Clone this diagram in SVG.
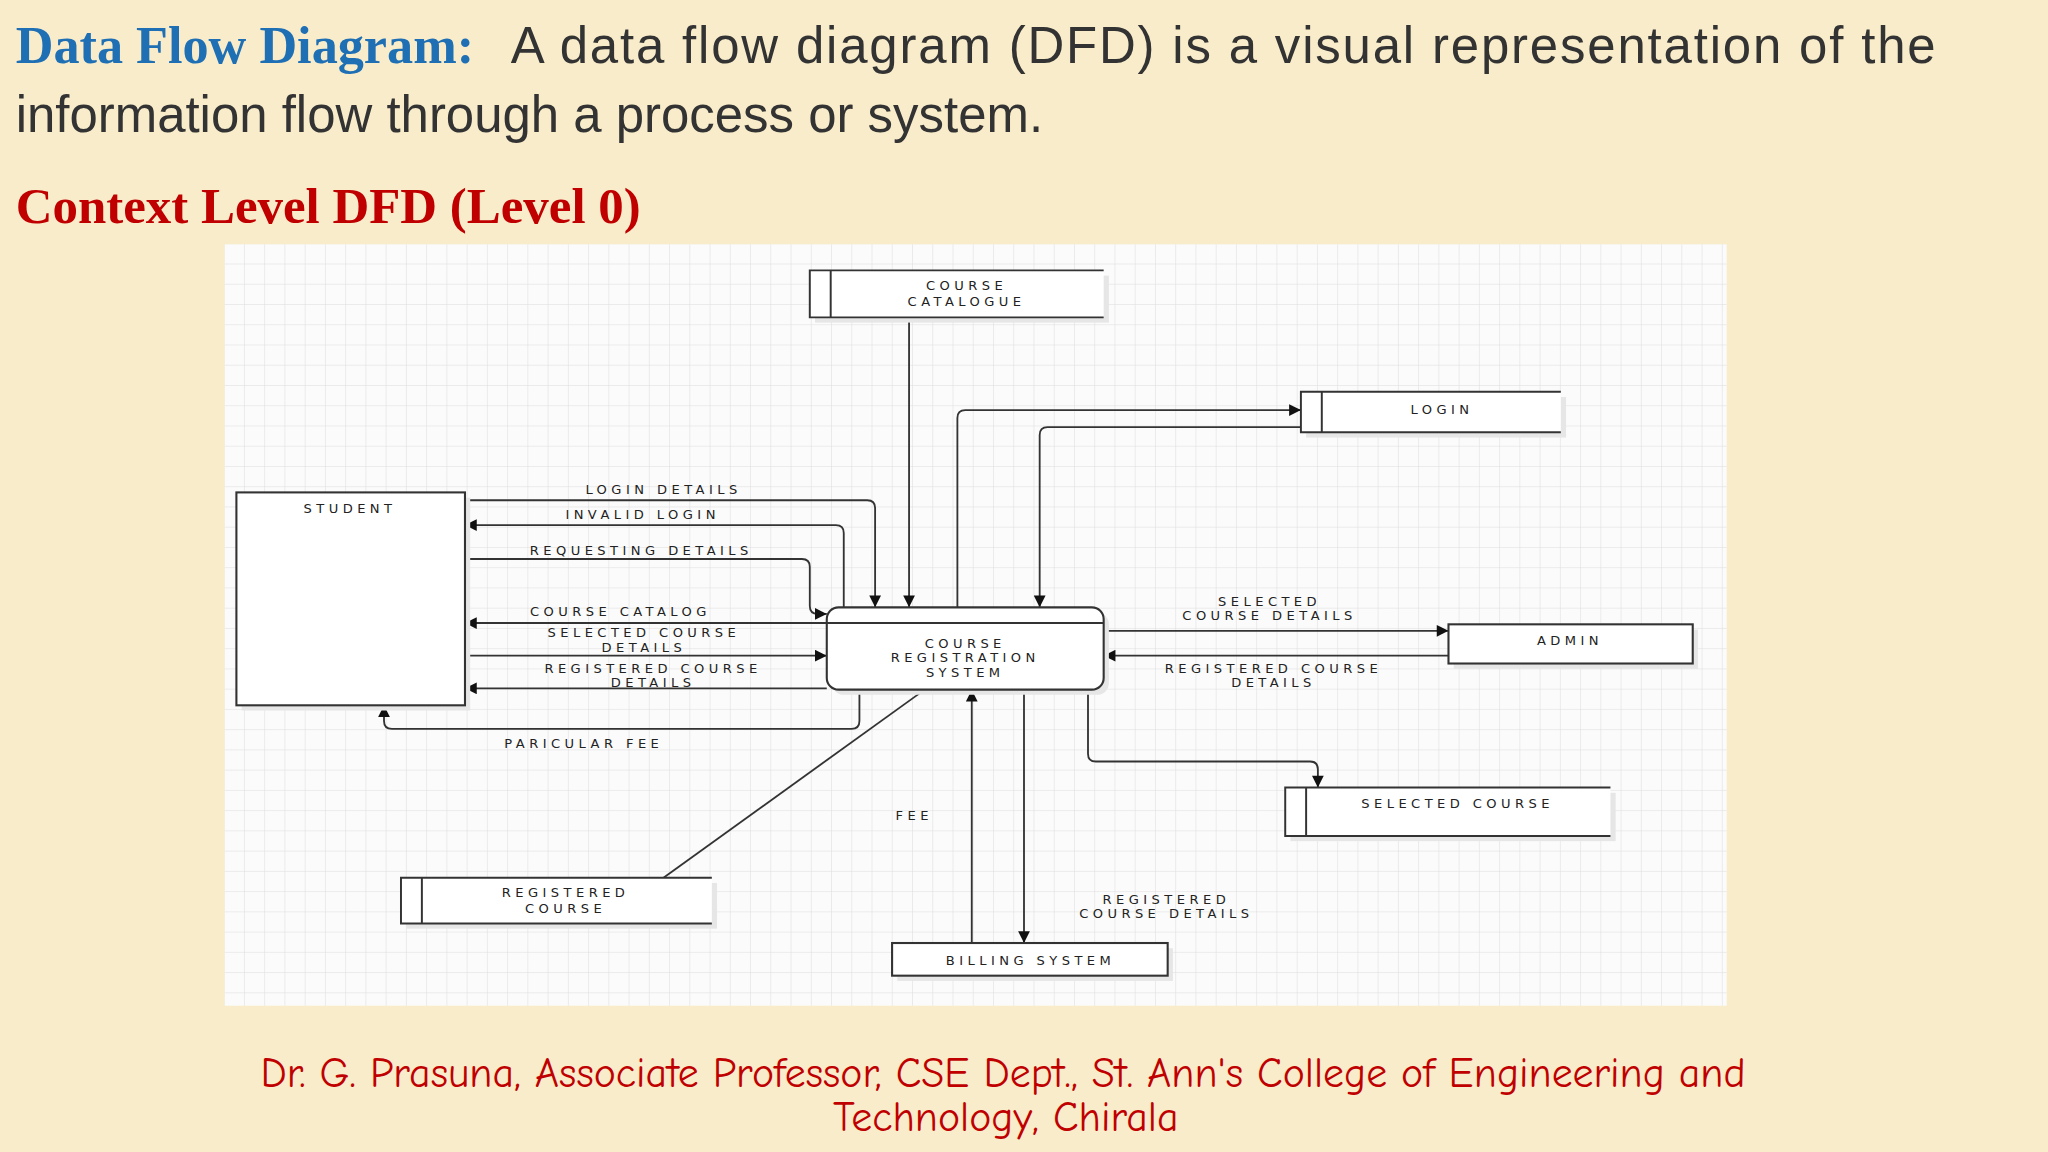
<svg xmlns="http://www.w3.org/2000/svg" width="2048" height="1152" viewBox="0 0 2048 1152">
<defs>
<pattern id="grid" width="15.5" height="15.5" patternUnits="userSpaceOnUse" x="172" y="187">
<path d="M15.5 0V15.5H0" fill="none" stroke="#dcdcdc" stroke-width="0.8"/>
</pattern>
<marker id="ah" viewBox="0 0 10 10" refX="10" refY="5" markerWidth="12" markerHeight="9" markerUnits="userSpaceOnUse" orient="auto">
<path d="M0 0L10 5L0 10z" fill="#111"/>
</marker>
</defs>
<style>
.n{fill:#fff;stroke:#333;stroke-width:1.6}
.ds{fill:#fff;stroke:none}
.l{fill:none;stroke:#333;stroke-width:1.5}
.c{fill:none;stroke:#333;stroke-width:1.4;marker-end:url(#ah)}
.p{fill:none;stroke:#333;stroke-width:1.4}
text.t{font-family:"DejaVu Sans","Liberation Sans",sans-serif;font-size:10px;fill:#222;text-anchor:middle;letter-spacing:3.4px}
</style>
<rect width="2048" height="1152" fill="#f8ecca"/>
<g transform="scale(1.306122)">
<text x="12" y="48" font-family="Liberation Serif,serif" font-weight="bold" font-size="40" fill="#1f6fb5">Data Flow Diagram:</text>
<text x="391" y="48" font-family="Liberation Sans,sans-serif" font-size="39" fill="#333" textLength="1091" lengthAdjust="spacing">A data flow diagram (DFD) is a visual representation of the</text>
<text x="12" y="101" font-family="Liberation Sans,sans-serif" font-size="39" fill="#333">information flow through a process or system.</text>
<text x="12" y="171" font-family="Liberation Serif,serif" font-weight="bold" font-size="39" fill="#c00000">Context Level DFD (Level 0)</text>

<rect x="172" y="187" width="1150" height="583" fill="#fbfbfb"/>
<rect x="172" y="187" width="1150" height="583" fill="url(#grid)"/>

<g id="connectors">
<path class="c" d="M696 243V465"/>
<path class="c" d="M356 383H664Q670 383 670 389V465"/>
<path class="c" d="M646 465V408Q646 402 640 402H356"/>
<path class="c" d="M356 428H614Q620 428 620 434V464Q620 470 626 470H633"/>
<path class="c" d="M633 477H356"/>
<path class="c" d="M356 502H633"/>
<path class="c" d="M633 527H356"/>
<path class="c" d="M658 528V552Q658 558 652 558H300Q294 558 294 552V540"/>
<path class="c" d="M733 465V320Q733 314 739 314H996"/>
<path class="c" d="M996 327H802Q796 327 796 333V465"/>
<path class="c" d="M845 483H1109"/>
<path class="c" d="M1109 502H845"/>
<path class="c" d="M833 528V577Q833 583 839 583H1003Q1009 583 1009 589V603"/>
<path class="p" d="M708 528L508 672"/>
<path class="c" d="M744 722V528"/>
<path class="c" d="M784 528V722"/>
</g>

<g id="course-catalogue">
<rect x="624" y="211" width="225" height="36" fill="#e6e6e6"/>
<rect class="ds" x="620" y="207" width="225" height="36"/>
<path class="l" d="M845 207H620V243H845M636 207V243"/>
<text class="t" y="222"><tspan x="740">COURSE</tspan><tspan x="740" dy="12">CATALOGUE</tspan></text>
</g>
<g id="login">
<rect x="1000" y="304" width="199" height="31" fill="#e6e6e6"/>
<rect class="ds" x="996" y="300" width="199" height="31"/>
<path class="l" d="M1195 300H996V331H1195M1012 300V331"/>
<text class="t" x="1104" y="317">LOGIN</text>
</g>
<g id="selected-course">
<rect x="988" y="607" width="249" height="37" fill="#e6e6e6"/>
<rect class="ds" x="984" y="603" width="249" height="37"/>
<path class="l" d="M1233 603H984V640H1233M1000 603V640"/>
<text class="t" x="1116" y="619">SELECTED COURSE</text>
</g>
<g id="registered-course">
<rect x="311" y="676" width="238" height="35" fill="#e6e6e6"/>
<rect class="ds" x="307" y="672" width="238" height="35"/>
<path class="l" d="M545 672H307V707H545M323 672V707"/>
<text class="t" y="687"><tspan x="433">REGISTERED</tspan><tspan x="433" dy="12">COURSE</tspan></text>
</g>
<g id="student">
<rect x="185" y="381" width="175" height="163" fill="#e6e6e6"/>
<rect class="n" x="181" y="377" width="175" height="163"/>
<text class="t" x="268" y="393">STUDENT</text>
</g>
<g id="admin">
<rect x="1113" y="482" width="187" height="30" fill="#e6e6e6"/>
<rect class="n" x="1109" y="478" width="187" height="30"/>
<text class="t" x="1202" y="494">ADMIN</text>
</g>
<g id="billing-system">
<rect x="687" y="726" width="211" height="25" fill="#e6e6e6"/>
<rect class="n" x="683" y="722" width="211" height="25"/>
<text class="t" x="789" y="739">BILLING SYSTEM</text>
</g>
<g id="course-registration-system">
<rect x="637" y="469" width="212" height="63" rx="9" fill="#e6e6e6"/>
<rect class="n" x="633" y="465" width="212" height="63" rx="9"/>
<path class="l" d="M633 477H845"/>
<text class="t" y="496"><tspan x="739">COURSE</tspan><tspan x="739" dy="11">REGISTRATION</tspan><tspan x="739" dy="11">SYSTEM</tspan></text>
</g>

<g id="labels">
<text class="t" x="508" y="378">LOGIN DETAILS</text>
<text class="t" x="492" y="397">INVALID LOGIN</text>
<text class="t" x="491" y="425">REQUESTING DETAILS</text>
<text class="t" x="475" y="472">COURSE CATALOG</text>
<text class="t" y="488"><tspan x="493">SELECTED COURSE</tspan><tspan x="493" dy="11">DETAILS</tspan></text>
<text class="t" y="515"><tspan x="500">REGISTERED COURSE</tspan><tspan x="500" dy="11">DETAILS</tspan></text>
<text class="t" x="447" y="573">PARICULAR FEE</text>
<text class="t" y="464"><tspan x="972">SELECTED</tspan><tspan x="972" dy="11">COURSE DETAILS</tspan></text>
<text class="t" y="515"><tspan x="975">REGISTERED COURSE</tspan><tspan x="975" dy="11">DETAILS</tspan></text>
<text class="t" x="700" y="628">FEE</text>
<text class="t" y="692"><tspan x="893">REGISTERED</tspan><tspan x="893" dy="11">COURSE DETAILS</tspan></text>
</g>

<text x="768" y="832" font-family="Comic Neue,Lato,sans-serif" font-size="32" fill="#c00000" text-anchor="middle">Dr. G. Prasuna, Associate Professor, CSE Dept., St. Ann's College of Engineering and</text>
<text x="770" y="866" font-family="Comic Neue,Lato,sans-serif" font-size="32" fill="#c00000" text-anchor="middle">Technology, Chirala</text>
</g>
</svg>
